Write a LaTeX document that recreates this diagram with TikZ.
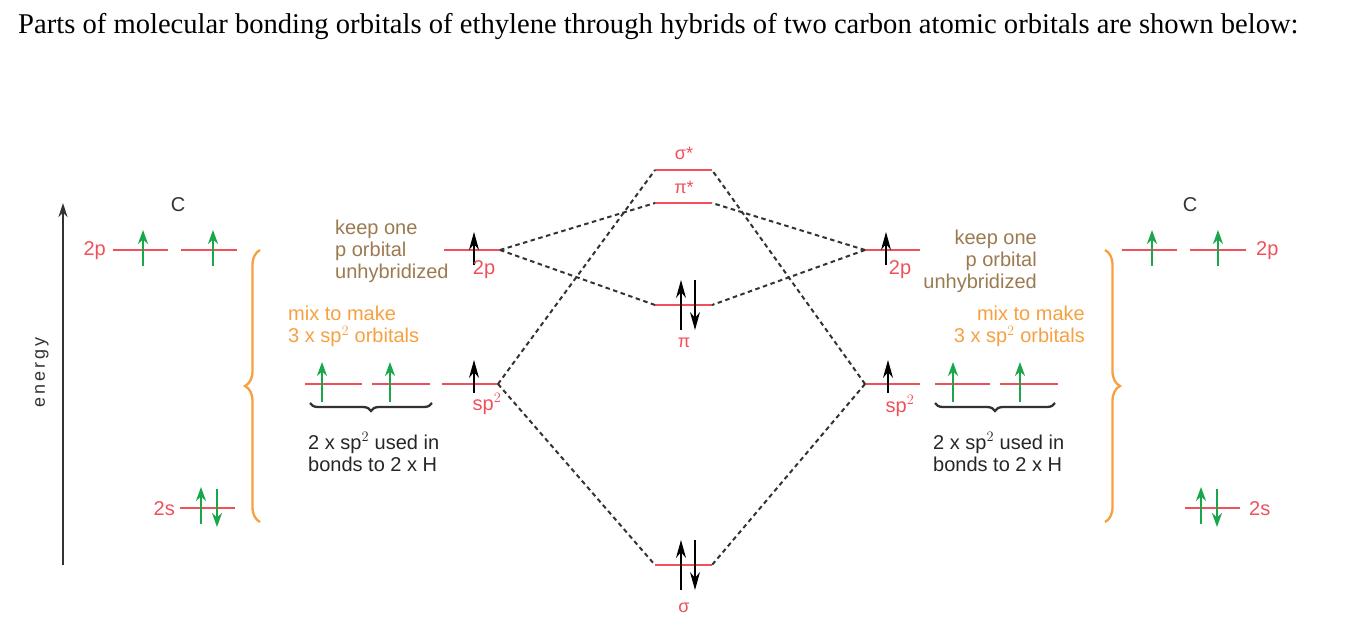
\documentclass[tikz,border=0pt]{standalone}
\usepackage{fontspec}
\setmainfont{Liberation Sans}
\newfontfamily\serifttl{Liberation Serif}
\usetikzlibrary{arrows.meta,decorations.pathreplacing}
\definecolor{lred}{HTML}{F0505A}
\definecolor{lgreen}{HTML}{1AA64A}
\definecolor{lorange}{HTML}{F7A040}
\definecolor{lbrown}{HTML}{9B7A50}
\definecolor{dgray}{HTML}{333333}
\begin{document}
\begin{tikzpicture}[x=1pt,y=-1pt,
  lvl/.style={draw=lred,line width=2.5pt},
  up/.style={draw=lgreen,line width=2.3pt,-{Stealth[length=14pt,width=10pt]}},
  bup/.style={draw=black,line width=1.2pt,-{Stealth[length=18pt,width=10pt]}},
  conn/.style={draw=dgray,line width=2pt,dash pattern=on 4.5pt off 3.5pt},
  txt/.style={font=\fontsize{20}{22}\selectfont,inner sep=0pt},
  rl/.style={txt,text=lred},
  gk/.style={txt,text=lred,font=\fontsize{18}{20}\selectfont},
  obr/.style={draw=lorange,line width=2.3pt,decorate,decoration={brace,amplitude=15pt}},
  gbr/.style={draw=dgray,line width=2.3pt,decorate,decoration={brace,amplitude=8pt}}]
\useasboundingbox (0,0) rectangle (1358,638);
\node[anchor=west,inner sep=0pt,font=\serifttl\fontsize{28.6}{32}\selectfont] (title) at (18,27) {Parts of molecular bonding orbitals of ethylene through hybrids of two carbon atomic orbitals are shown below:};
% energy axis
\coordinate (eb) at (63,565); \coordinate (et) at (63,203);
\draw[dgray,line width=1.8pt,-{Stealth[length=14pt,width=9pt]}] (eb) -- (et);
\node[txt,rotate=90,text=dgray,font=\fontsize{18}{20}\selectfont] (en) at (42,372) {e\,n\,e\,r\,g\,y};
% ---------- left carbon
\node[txt,text=dgray] (cl) at (178,205) {C};
\node[rl,anchor=east] (l2p) at (106,251) {2p};
\draw[lvl] (113,250) coordinate(a1) -- (168,250) coordinate(a2);
\draw[lvl] (181,250) coordinate(a3) -- (237,250) coordinate(a4);
\draw[up] (143,266) -- (143,230); \draw[up] (213,266) -- (213,230);
\node[rl,anchor=east] (l2s) at (175,509) {2s};
\draw[lvl] (180,508) coordinate(b1) -- (235,508) coordinate(b2);
\draw[up] (201,524) -- (201,487);
\draw[up] (217,489) -- (217,527);
\draw[obr] (260,522) coordinate(ob1) -- (260,250) coordinate(ob2);
\node[txt,text=lorange,align=left,anchor=north west] (lmix) at (288,306) {mix to make\\3 x sp$^2$ orbitals};
\node[txt,text=lbrown,align=left,anchor=north west] (lkeep) at (335,220) {keep one\\p orbital\\unhybridized};
\draw[lvl] (444,250) coordinate(lp1) -- (500,250) coordinate(lp);
\draw[bup] (474,265) -- (474,232);
\node[rl] (lp2) at (484,270) {2p};
\draw[lvl] (305,384) -- (362,384); \draw[lvl] (372,384) -- (430,384);
\draw[lvl] (442,384) -- (498,384) coordinate(ls);
\draw[up] (322,402) -- (322,362); \draw[up] (390,402) -- (390,362);
\draw[bup] (474,393) -- (474,360);
\node[rl] (lsp) at (487,404) {sp$^2$};
\draw[gbr] (432,403) -- (310,403);
\node[txt,text=black!85,align=left,anchor=north west] (lused) at (308,432) {2 x sp$^2$ used in\\bonds to 2 x H};
% ---------- center MOs
\draw[lvl] (655,170) coordinate(ssl) -- (712,170) coordinate(ssr);
\node[gk] (ssn) at (684,153) {σ*};
\draw[lvl] (655,203) coordinate(psl) -- (712,203) coordinate(psr);
\node[gk] (psn) at (684,187) {π*};
\draw[lvl] (655,305) coordinate(pl) -- (712,305) coordinate(pr);
\draw[bup] (681,330) -- (681,280); \draw[bup] (695,280) -- (695,330);
\node[gk] (pn) at (684,343) {π};
\draw[lvl] (655,565) coordinate(sl) -- (712,565) coordinate(sr);
\draw[bup] (681,590) -- (681,540); \draw[bup] (695,540) -- (695,590);
\node[gk] (sn) at (684,608) {σ};
% ---------- right carbon
\draw[lvl] (865,250) coordinate(rp) -- (920,250);
\draw[bup] (886,265) -- (886,232);
\node[rl] (rp2) at (900,270) {2p};
\node[txt,text=lbrown,align=right,anchor=north east] (rkeep) at (1037,230) {keep one\\p orbital\\unhybridized};
\draw[lvl] (865,384) coordinate(rs) -- (920,384);
\draw[lvl] (935,384) -- (990,384); \draw[lvl] (1000,384) -- (1058,384);
\draw[bup] (888,393) -- (888,360);
\draw[up] (953,402) -- (953,362); \draw[up] (1020,402) -- (1020,362);
\node[rl] (rsp) at (900,406) {sp$^2$};
\draw[gbr] (1055,403) -- (935,403);
\node[txt,text=black!85,align=left,anchor=north west] (rused) at (933,432) {2 x sp$^2$ used in\\bonds to 2 x H};
\node[txt,text=lorange,align=right,anchor=north east] (rmix) at (1085,306) {mix to make\\3 x sp$^2$ orbitals};
\draw[obr] (1105,250) coordinate(rb1) -- (1105,522) coordinate(rb2);
\node[txt,text=dgray] (cr) at (1190,205) {C};
\draw[lvl] (1122,250) -- (1177,250); \draw[lvl] (1190,250) -- (1246,250);
\draw[up] (1152,266) -- (1152,230); \draw[up] (1218,266) -- (1218,230);
\node[rl,anchor=west] (r2p) at (1256,251) {2p};
\draw[lvl] (1185,508) -- (1240,508);
\draw[up] (1201,524) -- (1201,487);
\draw[up] (1217,489) -- (1217,527);
\node[rl,anchor=west] (r2s) at (1249,509) {2s};
% ---------- connectors
\draw[conn] (lp) -- (psl); \draw[conn] (lp) -- (pl);
\draw[conn] (ls) -- (ssl); \draw[conn] (ls) -- (sl);
\draw[conn] (rp) -- (psr); \draw[conn] (rp) -- (pr);
\draw[conn] (rs) -- (ssr); \draw[conn] (rs) -- (sr);
\end{tikzpicture}
\end{document}
